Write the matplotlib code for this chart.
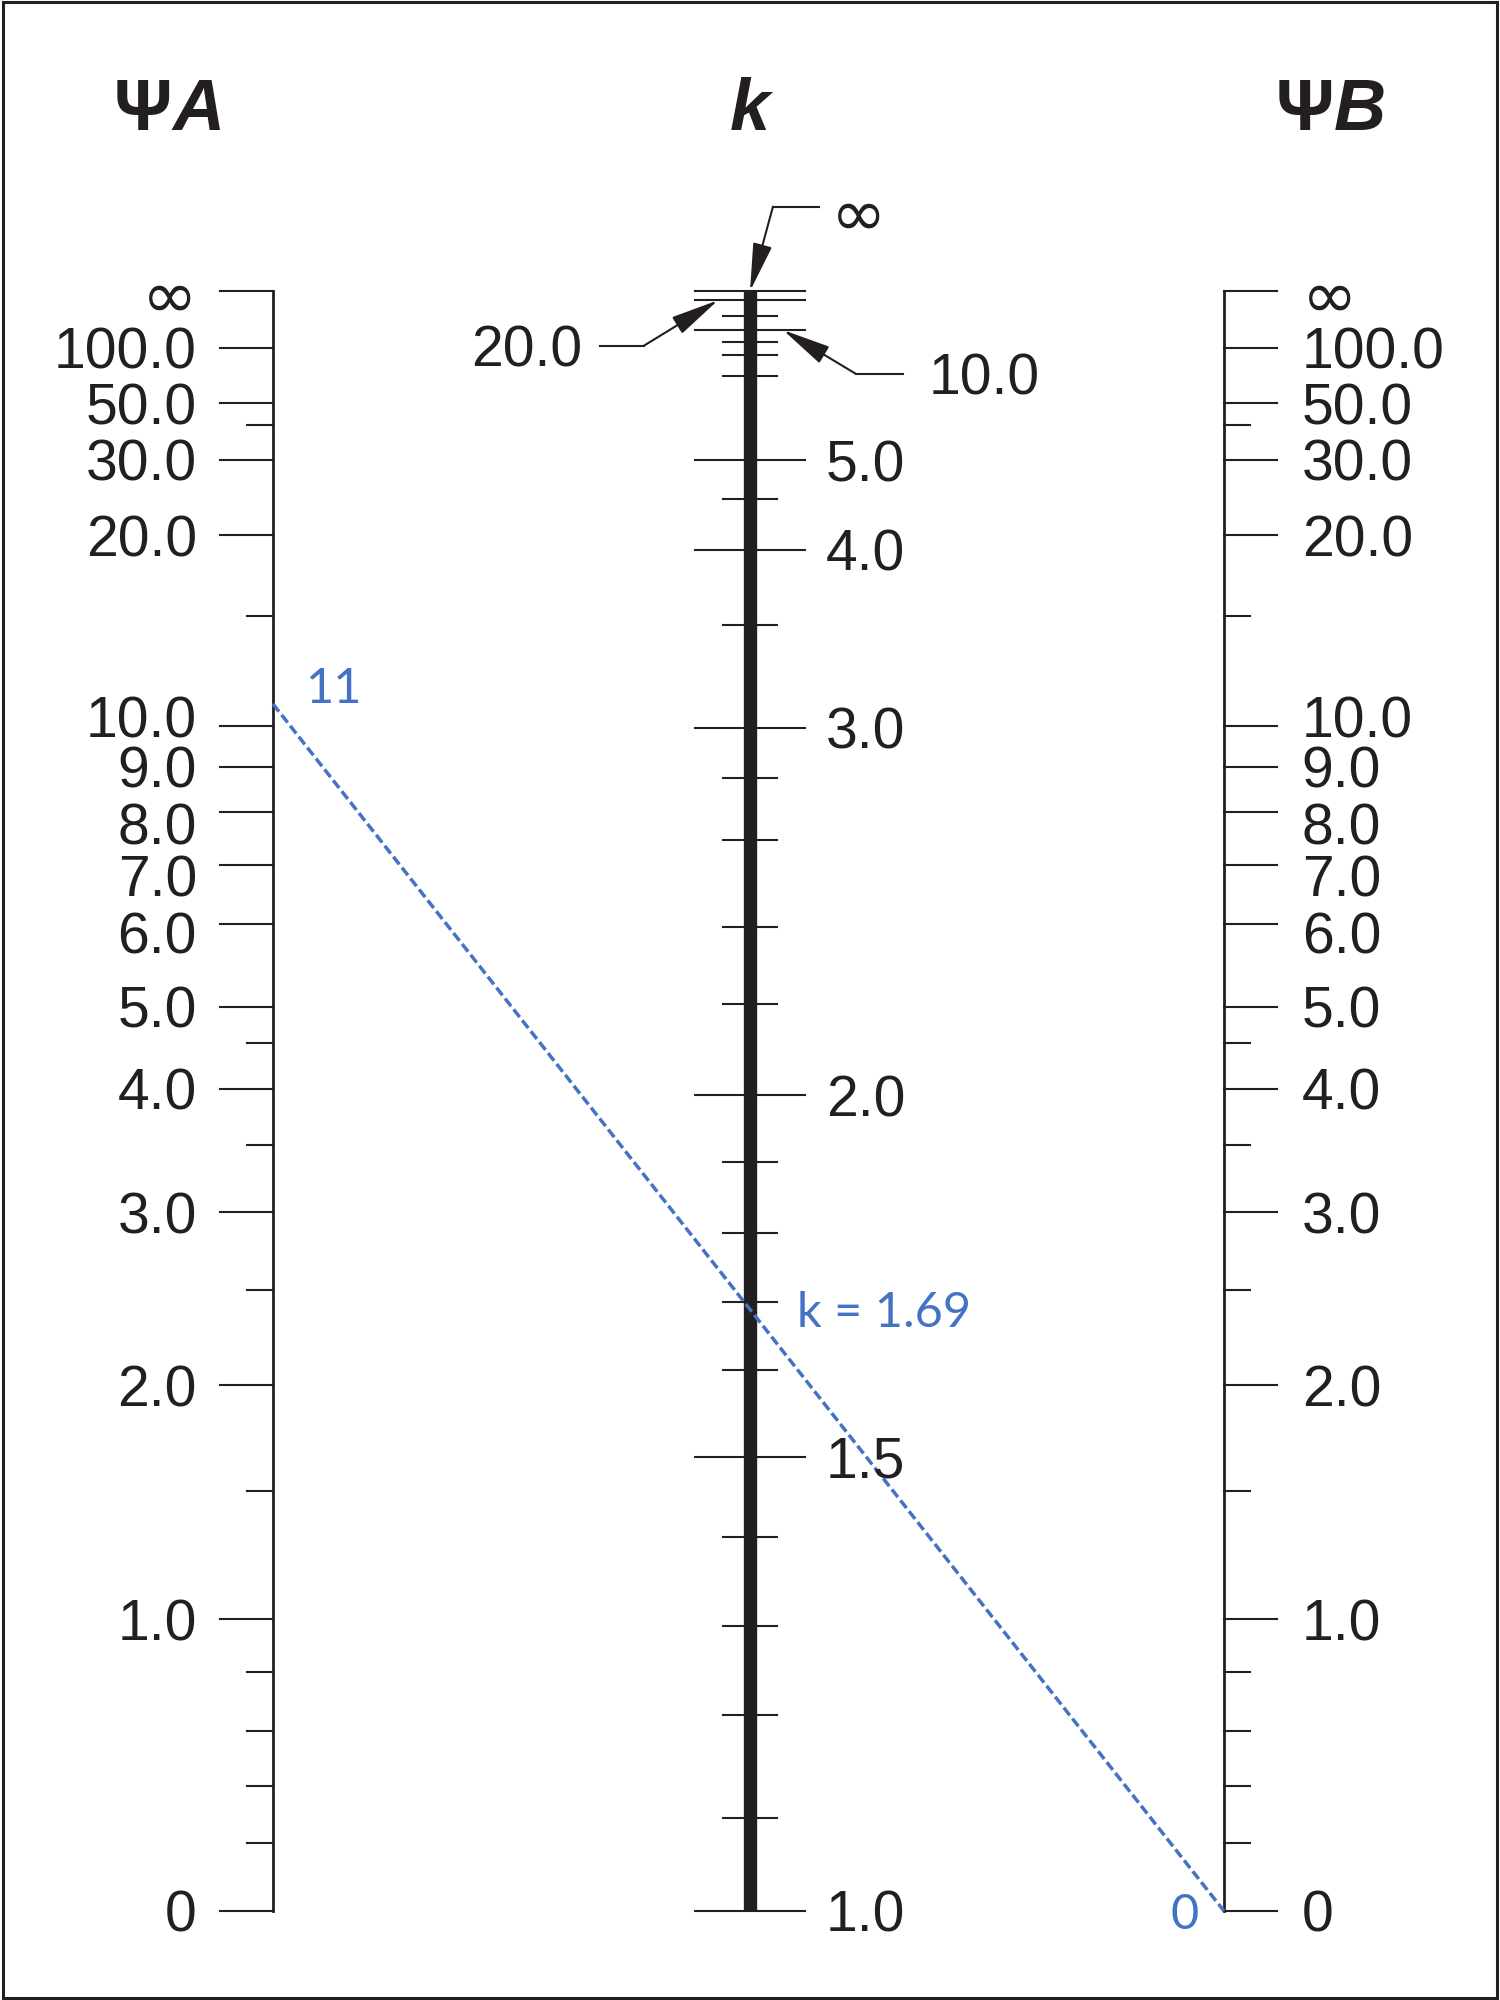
import numpy as np
import matplotlib.pyplot as plt

# Alignment chart (sway frames) - scale readings
# position along a scale: 0 = bottom end, 1 = top end (infinity)
psi_major = [0, 1.0, 2.0, 3.0, 4.0, 5.0, 6.0, 7.0, 8.0, 9.0, 10.0, 20.0, 30.0, 50.0, 100.0, np.inf]
psi_major_pos = [0.0, 0.1801, 0.3245, 0.4315, 0.5076, 0.5583, 0.6093, 0.6459, 0.6785, 0.7063,
                 0.7316, 0.8493, 0.8959, 0.9309, 0.9651, 1.0]
psi_labels = ['0', '1.0', '2.0', '3.0', '4.0', '5.0', '6.0', '7.0', '8.0', '9.0',
              '10.0', '20.0', '30.0', '50.0', '100.0', '\u221e']
psi_minor = [0.2, 0.4, 0.6, 0.8, 1.5, 2.5, 3.5, 4.5, 15.0, 40.0]
psi_minor_pos = [0.0418, 0.0774, 0.1109, 0.1476, 0.2590, 0.3836, 0.4726, 0.5357, 0.7994, 0.9172]

k_major = [1.0, 1.5, 2.0, 3.0, 4.0, 5.0, 10.0, 20.0, np.inf]
k_major_pos = [0.0, 0.2805, 0.5035, 0.7305, 0.8404, 0.8956, 0.9760, 0.9944, 1.0]
k_side_labels = ['1.0', '1.5', '2.0', '3.0', '4.0', '5.0']
k_minor = [1.1, 1.2, 1.3, 1.4, 1.6, 1.7, 1.8, 1.9, 2.2, 2.4, 2.6, 2.8, 3.5, 4.5, 7.0, 8.0, 9.0, 15.0]
k_minor_pos = [0.0575, 0.1209, 0.1760, 0.2311, 0.3339, 0.3761, 0.4188, 0.4627, 0.5599, 0.6076,
               0.6614, 0.6997, 0.7941, 0.8715, 0.9477, 0.9604, 0.9686, 0.9847]

# worked example drawn on the chart
psi_a = 11
psi_b = 0
k_result = 1.69

ink = '#231f20'
blue = '#4472c4'
plt.rcParams['font.family'] = ['Liberation Sans', 'DejaVu Sans']

# crowded labels are nudged off their ticks (points, + = up)
label_nudge = {'10.0': 7, '8.0': -8, '7.0': -8, '6.0': -6}


def psi_pos(v):
    vals = psi_major[:-1] + psi_minor
    pos = psi_major_pos[:-1] + psi_minor_pos
    order = np.argsort(vals)
    return np.interp(v, np.array(vals)[order], np.array(pos)[order])


def label_font(lab):
    # the infinity sign is drawn bigger and wider on the chart
    if lab == '\u221e':
        return dict(family=['DejaVu Sans'], fontsize=48)
    return dict(family=['Liberation Sans', 'DejaVu Sans'], fontsize=41)


fig = plt.figure(figsize=(15, 20), dpi=100)
ax = fig.add_axes([0, 0, 1, 1])
ax.set_xlim(0, 1)
bot, top = 0.0445, 0.8544
span = top - bot
ax.set_ylim(-bot / span, (1 - bot) / span)
ax.axis('off')

x_a, x_k, x_b = 0.182, 0.5, 0.816
maj, mnr = 0.0353, 0.0175
kmaj, kmnr = 0.0367, 0.018
lab_size = 41

# outer frame
fig.patches.append(plt.Rectangle((0.002, 0.001), 0.996, 0.998, transform=fig.transFigure,
                                 fill=False, ec=ink, lw=2.2))

# psi A and psi B scales
for x, side in [(x_a, -1), (x_b, 1)]:
    ax.plot([x, x], [0, 1], color=ink, lw=2.0, solid_capstyle='projecting')
    for p in psi_major_pos:
        ax.plot([x, x + side * maj], [p, p], color=ink, lw=1.5)
    for p in psi_minor_pos:
        ax.plot([x, x + side * mnr], [p, p], color=ink, lw=1.5)
    for p, lab in zip(psi_major_pos, psi_labels):
        dy = label_nudge.get(lab, 0)
        if side < 0:
            ax.annotate(lab, (x - 0.0507, p), xytext=(0, dy), textcoords='offset points',
                        ha='right', va='center_baseline', color=ink, **label_font(lab))
        else:
            ax.annotate(lab, (x + 0.0518, p), xytext=(0, dy), textcoords='offset points',
                        ha='left', va='center_baseline', color=ink, **label_font(lab))

# k scale
for p in k_major_pos:
    ax.plot([x_k - kmaj, x_k + kmaj], [p, p], color=ink, lw=1.5)
for p in k_minor_pos:
    ax.plot([x_k - kmnr, x_k + kmnr], [p, p], color=ink, lw=1.5)
ax.plot([x_k, x_k], [0, 1], color=ink, lw=9.6, solid_capstyle='butt')
for p, lab in zip(k_major_pos[:6], k_side_labels):
    ax.text(x_k + 0.0507, p, lab, ha='left', va='center_baseline', fontsize=lab_size, color=ink)

# leader arrows for the top of the k scale
arrow = dict(arrowstyle='-|>,head_length=1.5,head_width=0.3', mutation_scale=20,
             lw=1.5, color=ink, shrinkA=0, shrinkB=0)
p_inf, p_10, p_20 = k_major_pos[8], k_major_pos[6], k_major_pos[7]
ax.plot([0.5153, 0.5459], [1.0522, 1.0522], color=ink, lw=1.5)
ax.annotate('', xy=(x_k, p_inf), xytext=(0.5153, 1.0522), arrowprops=arrow)
ax.text(0.554, 1.0501, '\u221e', ha='left', va='center_baseline', color=ink,
        **label_font('\u221e'))

ax.plot([0.3997, 0.429], [0.9662, 0.9662], color=ink, lw=1.5)
ax.annotate('', xy=(x_k - 0.0213, p_20), xytext=(0.429, 0.9662), arrowprops=arrow)
ax.text(0.388, 0.9662, '20.0', ha='right', va='center_baseline', fontsize=lab_size, color=ink)

ax.plot([0.5707, 0.6017], [0.9489, 0.9489], color=ink, lw=1.5)
ax.annotate('', xy=(x_k + 0.0221, p_10), xytext=(0.5707, 0.9489), arrowprops=arrow)
ax.text(0.619, 0.9489, '10.0', ha='left', va='center_baseline', fontsize=lab_size, color=ink)

# scale headers
hy = 1.0998
ax.text(0.1147, hy, '\u03a8', ha='right', va='baseline', fontsize=52, fontweight='bold', color=ink)
ax.text(0.1147, hy, 'A', ha='left', va='baseline', fontsize=52, fontweight='bold',
        fontstyle='italic', color=ink)
ax.text(x_k, hy, 'k', ha='center', va='baseline', fontsize=52, fontweight='bold',
        fontstyle='italic', color=ink)
ax.text(0.8893, hy, '\u03a8', ha='right', va='baseline', fontsize=52, fontweight='bold', color=ink)
ax.text(0.8893, hy, 'B', ha='left', va='baseline', fontsize=52, fontweight='bold',
        fontstyle='italic', color=ink)

# example line psiA -> psiB
ya, yb = psi_pos(psi_a), psi_pos(psi_b)
ax.plot([x_a, x_b], [ya, yb], color=blue, lw=2.5, linestyle=(0, (2.8, 1.2)))
yk = ya + (yb - ya) * (x_k - x_a) / (x_b - x_a)
blue_font = dict(color=blue, fontsize=35, family=['Lato', 'DejaVu Sans'])
ax.annotate(str(psi_a), (x_a, ya), xytext=(24, 1), textcoords='offset points',
            ha='left', va='baseline', **blue_font)
ax.annotate('k = %.2f' % k_result, (x_k, yk), xytext=(34, 0), textcoords='offset points',
            ha='left', va='center_baseline', **blue_font)
ax.annotate(str(psi_b), (x_b, yb), xytext=(-18, 0), textcoords='offset points',
            ha='right', va='center_baseline', **blue_font)

plt.savefig('out.png', dpi=100, facecolor='white')
